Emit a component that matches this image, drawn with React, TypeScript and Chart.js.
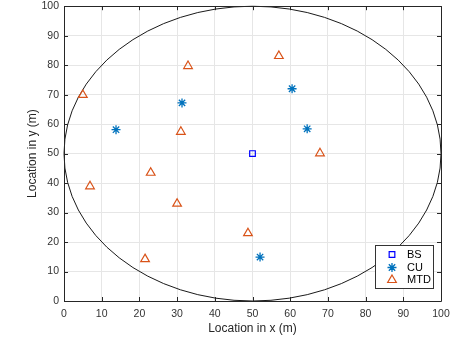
import React, { useEffect, useRef } from "react";
import { Chart, registerables } from "chart.js";
import { drawPoint } from "chart.js/helpers";

Chart.register(...registerables);

const bsX = [50];
const bsY = [50];
const cuX = [13.8, 31.3, 60.5, 64.5, 52];
const cuY = [58.1, 67.2, 72, 58.4, 14.9];
const mtdX = [5, 6.9, 23, 31, 32.9, 30, 21.5, 48.8, 57, 67.9];
const mtdY = [69.9, 38.9, 43.5, 57.4, 79.7, 33, 14.2, 23, 83.1, 50.1];
const axisTicks = [0, 10, 20, 30, 40, 50, 60, 70, 80, 90, 100];
const circleCenter = [50, 50];
const circleRadius = 50;
const legendLabels = ["BS", "CU", "MTD"];

const AXIS_COLOR = "#262626";
const FONT = "'Liberation Sans', Arial, sans-serif";

const toPts = (xs: number[], ys: number[]) => xs.map((x, i) => ({ x, y: ys[i] }));

const circlePlugin = {
  id: "circle",
  beforeDatasetsDraw(chart: any) {
    const { ctx, chartArea, scales } = chart;
    const xs = scales.x;
    const ys = scales.y;
    const cx = xs.getPixelForValue(circleCenter[0]);
    const cy = ys.getPixelForValue(circleCenter[1]);
    const rx = Math.abs(xs.getPixelForValue(circleCenter[0] + circleRadius) - cx);
    const ry = Math.abs(ys.getPixelForValue(circleCenter[1] + circleRadius) - cy);
    ctx.save();
    ctx.beginPath();
    ctx.rect(chartArea.left - 1, chartArea.top - 1, chartArea.right - chartArea.left + 2, chartArea.bottom - chartArea.top + 2);
    ctx.clip();
    ctx.beginPath();
    ctx.ellipse(cx, cy, rx, ry, 0, 0, Math.PI * 2);
    ctx.strokeStyle = "#1a1a1a";
    ctx.lineWidth = 1;
    ctx.stroke();
    ctx.restore();
  },
};

const boxPlugin = {
  id: "box",
  afterDraw(chart: any) {
    const { ctx, chartArea, scales } = chart;
    const { left, right, top, bottom } = chartArea;
    ctx.save();
    ctx.strokeStyle = AXIS_COLOR;
    ctx.lineWidth = 1;
    ctx.beginPath();
    ctx.rect(Math.round(left) + 0.5, Math.round(top) + 0.5, Math.round(right - left), Math.round(bottom - top));
    ctx.stroke();
    const tl = 4;
    ctx.beginPath();
    axisTicks.forEach((v) => {
      const px = Math.round(scales.x.getPixelForValue(v)) + 0.5;
      ctx.moveTo(px, bottom);
      ctx.lineTo(px, bottom - tl);
      ctx.moveTo(px, top);
      ctx.lineTo(px, top + tl);
      const py = Math.round(scales.y.getPixelForValue(v)) + 0.5;
      ctx.moveTo(left, py);
      ctx.lineTo(left + tl, py);
      ctx.moveTo(right, py);
      ctx.lineTo(right - tl, py);
    });
    ctx.stroke();

    // legend
    const lx = 375.5, ly = 245.5, lw = 58, lh = 43;
    ctx.fillStyle = "#ffffff";
    ctx.fillRect(lx, ly, lw, lh);
    ctx.strokeStyle = "#333333";
    ctx.strokeRect(lx, ly, lw, lh);
    const rowY = [254.5, 267.5, 280];
    ctx.font = `11px ${FONT}`;
    ctx.textBaseline = "middle";
    ctx.textAlign = "left";
    legendLabels.forEach((label, i) => {
      const ds = chart.data.datasets[i];
      ctx.strokeStyle = ds.borderColor;
      ctx.fillStyle = "rgba(0,0,0,0)";
      ctx.lineWidth = ds.borderWidth;
      drawPoint(ctx, {
        pointStyle: ds.pointStyle,
        radius: ds.pointRadius,
        borderWidth: ds.borderWidth,
        rotation: 0,
      } as any, 392, rowY[i]);
      ctx.fillStyle = "#000000";
      ctx.fillText(label, 407, rowY[i]);
    });
    ctx.restore();
  },
};

export default function App() {
  const ref = useRef<HTMLCanvasElement>(null);
  useEffect(() => {
    document.body.style.margin = "0";
    const canvas = ref.current!;
    const tickFont = { family: FONT, size: 10.5 };
    const titleFont = { family: FONT, size: 12 };
    const chart = new Chart(canvas, {
      type: "scatter",
      data: {
        datasets: [
          {
            label: legendLabels[0],
            data: toPts(bsX, bsY),
            pointStyle: "rect",
            pointRadius: 4,
            borderColor: "#0000ff",
            backgroundColor: "rgba(0,0,0,0)",
            borderWidth: 1.2,
          },
          {
            label: legendLabels[1],
            data: toPts(cuX, cuY),
            pointStyle: "star",
            pointRadius: 4.5,
            borderColor: "#0072bd",
            backgroundColor: "rgba(0,0,0,0)",
            borderWidth: 1.3,
          },
          {
            label: legendLabels[2],
            data: toPts(mtdX, mtdY),
            pointStyle: "triangle",
            pointRadius: 5,
            borderColor: "#d95319",
            backgroundColor: "rgba(0,0,0,0)",
            borderWidth: 1.2,
          },
        ] as any,
      },
      options: {
        responsive: false,
        animation: false,
        layout: { padding: { left: 0, right: 33, top: 5, bottom: 0 } },
        plugins: { legend: { display: false }, tooltip: { enabled: false } },
        scales: {
          x: {
            type: "linear",
            min: 0,
            max: 100,
            afterBuildTicks: (s: any) => {
              s.ticks = axisTicks.map((v) => ({ value: v }));
            },
            afterFit: (s: any) => {
              s.height = 56;
              s.paddingLeft = 0;
              s.paddingRight = 0;
            },
            ticks: { font: tickFont, color: "#333333", padding: 7, maxRotation: 0 },
            grid: { color: "#e6e6e6", drawTicks: false },
            border: { display: false },
            title: {
              display: true,
              text: "Location in x (m)",
              font: titleFont,
              color: "#262626",
              padding: { top: 0, bottom: 21 },
            },
          },
          y: {
            type: "linear",
            min: 0,
            max: 100,
            afterBuildTicks: (s: any) => {
              s.ticks = axisTicks.map((v) => ({ value: v }));
            },
            afterFit: (s: any) => {
              s.width = 64;
              s.paddingTop = 0;
              s.paddingBottom = 0;
            },
            ticks: { font: tickFont, color: "#333333", padding: 5 },
            grid: { color: "#e6e6e6", drawTicks: false },
            border: { display: false },
            title: {
              display: true,
              text: "Location in y (m)",
              font: titleFont,
              color: "#262626",
              padding: { top: 25, bottom: 0 },
            },
          },
        },
      } as any,
      plugins: [circlePlugin, boxPlugin],
    });
    return () => chart.destroy();
  }, []);
  return <canvas ref={ref} width={474} height={357} style={{ display: "block" }} />;
}
